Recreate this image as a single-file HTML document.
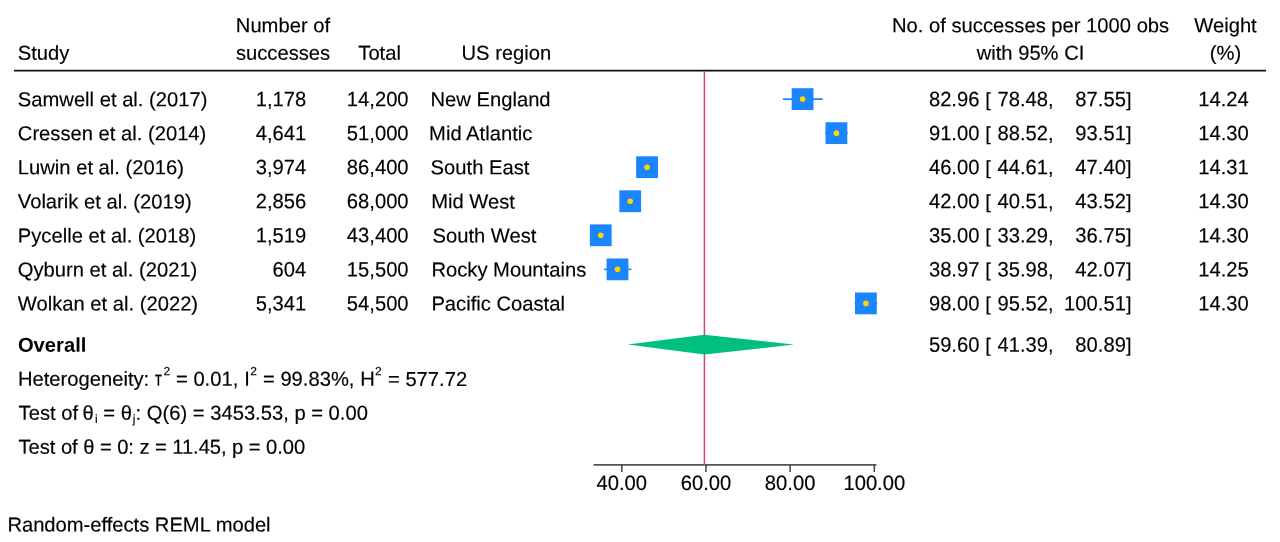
<!DOCTYPE html>
<html><head><meta charset="utf-8"><title>Forest plot</title>
<style>
html,body{margin:0;padding:0;background:#fff;}
body{width:1280px;height:542px;overflow:hidden;}
svg{display:block;will-change:transform;}
text{font-family:"Liberation Sans",Arial,Helvetica,sans-serif;font-size:20.2px;fill:#000;white-space:pre;stroke:#000;stroke-width:0.15px;}
.b{font-weight:bold;stroke-width:0;}
.sup{font-size:12px;}
</style></head><body>
<svg width="1280" height="542" viewBox="0 0 1280 542">
<rect x="0" y="0" width="1280" height="542" fill="#fff"/>

<text transform="matrix(1,0.0005,0,1.0,17.80,59.8)">Study</text>
<text transform="matrix(1,0.0005,0,1.0,235.80,32.2)">Number of</text>
<text transform="matrix(1,0.0005,0,1.0,235.90,59.8)">successes</text>
<text transform="matrix(1,0.0005,0,1.0,358.30,59.8)">Total</text>
<text transform="matrix(1,0.0005,0,1.0,461.50,59.8)">US region</text>
<text transform="matrix(1,0.0005,0,1.0,1030.60,32.2)" text-anchor="middle">No. of successes per 1000 obs</text>
<text transform="matrix(1,0.0005,0,1.0,1030.50,59.8)" text-anchor="middle">with 95% CI</text>
<text transform="matrix(1,0.0005,0,1.0,1225.50,32.2)" text-anchor="middle">Weight</text>
<text transform="matrix(1,0.0005,0,1.0,1225.50,59.8)" text-anchor="middle">(%)</text>
<line x1="14" y1="70.6" x2="1266" y2="70.6" stroke="#111" stroke-width="1.7"/>
<line x1="593.56" y1="464.9" x2="876.45" y2="464.9" stroke="#555" stroke-width="1.6"/>
<line x1="621.80" y1="464.9" x2="621.80" y2="472" stroke="#444" stroke-width="1.5"/>
<text transform="matrix(1,0.0005,0,1.035,621.80,490.0)" text-anchor="middle">40.00</text>
<line x1="705.97" y1="464.9" x2="705.97" y2="472" stroke="#444" stroke-width="1.5"/>
<text transform="matrix(1,0.0005,0,1.035,705.97,490.0)" text-anchor="middle">60.00</text>
<line x1="790.13" y1="464.9" x2="790.13" y2="472" stroke="#444" stroke-width="1.5"/>
<text transform="matrix(1,0.0005,0,1.035,790.13,490.0)" text-anchor="middle">80.00</text>
<line x1="874.30" y1="464.9" x2="874.30" y2="472" stroke="#444" stroke-width="1.5"/>
<text transform="matrix(1,0.0005,0,1.035,874.30,490.0)" text-anchor="middle">100.00</text>
<line x1="704.43" y1="70.9" x2="704.43" y2="465.2" stroke="#cf486c" stroke-width="1.5"/>
<text transform="matrix(1,0.0005,0,1.0,17.80,106.2)">Samwell et al. (2017)</text>
<text transform="matrix(1,0.0005,0,1.035,306.20,106.2)" text-anchor="end">1,178</text>
<text transform="matrix(1,0.0005,0,1.035,408.60,106.2)" text-anchor="end">14,200</text>
<text transform="matrix(1,0.0005,0,1.0,430.50,106.2)">New England</text>
<text transform="matrix(1,0.0005,0,1.035,928.90,106.2)">82.96</text>
<text transform="matrix(1,0.0005,0,0.95,985.25,106.2)">[</text>
<text transform="matrix(1,0.0005,0,1.035,997.50,106.2)">78.48,</text>
<text transform="matrix(1,0.0005,0,1.035,1125.89,106.2)" text-anchor="end">87.55</text>
<text transform="matrix(1,0.0005,0,0.95,1131.50,106.2)" text-anchor="end">]</text>
<text transform="matrix(1,0.0005,0,1.035,1198.30,106.2)">14.24</text>
<line x1="782.94" y1="99.10" x2="822.71" y2="99.10" stroke="#1a85ff" stroke-width="1.6"/>
<rect x="791.69" y="88.20" width="21.8" height="21.8" fill="#1a85ff"/>
<circle cx="802.59" cy="99.10" r="2.8" fill="#ffd400"/>
<text transform="matrix(1,0.0005,0,1.0,17.80,140.25)">Cressen et al. (2014)</text>
<text transform="matrix(1,0.0005,0,1.035,306.20,140.25)" text-anchor="end">4,641</text>
<text transform="matrix(1,0.0005,0,1.035,408.60,140.25)" text-anchor="end">51,000</text>
<text transform="matrix(1,0.0005,0,1.0,429.10,140.25)">Mid Atlantic</text>
<text transform="matrix(1,0.0005,0,1.035,928.90,140.25)">91.00</text>
<text transform="matrix(1,0.0005,0,0.95,985.25,140.25)">[</text>
<text transform="matrix(1,0.0005,0,1.035,997.50,140.25)">88.52,</text>
<text transform="matrix(1,0.0005,0,1.035,1125.89,140.25)" text-anchor="end">93.51</text>
<text transform="matrix(1,0.0005,0,0.95,1131.50,140.25)" text-anchor="end">]</text>
<text transform="matrix(1,0.0005,0,1.035,1198.30,140.25)">14.30</text>
<line x1="825.19" y1="133.15" x2="847.79" y2="133.15" stroke="#1a85ff" stroke-width="1.6"/>
<rect x="825.52" y="122.25" width="21.8" height="21.8" fill="#1a85ff"/>
<circle cx="836.42" cy="133.15" r="2.8" fill="#ffd400"/>
<text transform="matrix(1,0.0005,0,1.0,17.80,174.3)">Luwin et al. (2016)</text>
<text transform="matrix(1,0.0005,0,1.035,306.20,174.3)" text-anchor="end">3,974</text>
<text transform="matrix(1,0.0005,0,1.035,408.60,174.3)" text-anchor="end">86,400</text>
<text transform="matrix(1,0.0005,0,1.0,430.60,174.3)">South East</text>
<text transform="matrix(1,0.0005,0,1.035,928.90,174.3)">46.00</text>
<text transform="matrix(1,0.0005,0,0.95,985.25,174.3)">[</text>
<text transform="matrix(1,0.0005,0,1.035,997.50,174.3)">44.61,</text>
<text transform="matrix(1,0.0005,0,1.035,1125.89,174.3)" text-anchor="end">47.40</text>
<text transform="matrix(1,0.0005,0,0.95,1131.50,174.3)" text-anchor="end">]</text>
<text transform="matrix(1,0.0005,0,1.035,1198.30,174.3)">14.31</text>
<line x1="640.40" y1="167.20" x2="653.74" y2="167.20" stroke="#1a85ff" stroke-width="1.6"/>
<rect x="636.15" y="156.30" width="21.8" height="21.8" fill="#1a85ff"/>
<circle cx="647.05" cy="167.20" r="2.8" fill="#ffd400"/>
<text transform="matrix(1,0.0005,0,1.0,17.80,208.35)">Volarik et al. (2019)</text>
<text transform="matrix(1,0.0005,0,1.035,306.20,208.35)" text-anchor="end">2,856</text>
<text transform="matrix(1,0.0005,0,1.035,408.60,208.35)" text-anchor="end">68,000</text>
<text transform="matrix(1,0.0005,0,1.0,431.20,208.35)">Mid West</text>
<text transform="matrix(1,0.0005,0,1.035,928.90,208.35)">42.00</text>
<text transform="matrix(1,0.0005,0,0.95,985.25,208.35)">[</text>
<text transform="matrix(1,0.0005,0,1.035,997.50,208.35)">40.51,</text>
<text transform="matrix(1,0.0005,0,1.035,1125.89,208.35)" text-anchor="end">43.52</text>
<text transform="matrix(1,0.0005,0,0.95,1131.50,208.35)" text-anchor="end">]</text>
<text transform="matrix(1,0.0005,0,1.035,1198.30,208.35)">14.30</text>
<line x1="623.15" y1="201.25" x2="637.41" y2="201.25" stroke="#1a85ff" stroke-width="1.6"/>
<rect x="619.32" y="190.35" width="21.8" height="21.8" fill="#1a85ff"/>
<circle cx="630.22" cy="201.25" r="2.8" fill="#ffd400"/>
<text transform="matrix(1,0.0005,0,1.0,17.80,242.4)">Pycelle et al. (2018)</text>
<text transform="matrix(1,0.0005,0,1.035,306.20,242.4)" text-anchor="end">1,519</text>
<text transform="matrix(1,0.0005,0,1.035,408.60,242.4)" text-anchor="end">43,400</text>
<text transform="matrix(1,0.0005,0,1.0,432.50,242.4)">South West</text>
<text transform="matrix(1,0.0005,0,1.035,928.90,242.4)">35.00</text>
<text transform="matrix(1,0.0005,0,0.95,985.25,242.4)">[</text>
<text transform="matrix(1,0.0005,0,1.035,997.50,242.4)">33.29,</text>
<text transform="matrix(1,0.0005,0,1.035,1125.89,242.4)" text-anchor="end">36.75</text>
<text transform="matrix(1,0.0005,0,0.95,1131.50,242.4)" text-anchor="end">]</text>
<text transform="matrix(1,0.0005,0,1.035,1198.30,242.4)">14.30</text>
<line x1="592.76" y1="235.30" x2="608.92" y2="235.30" stroke="#1a85ff" stroke-width="1.6"/>
<rect x="589.86" y="224.40" width="21.8" height="21.8" fill="#1a85ff"/>
<circle cx="600.76" cy="235.30" r="2.8" fill="#ffd400"/>
<text transform="matrix(1,0.0005,0,1.0,17.80,276.45)">Qyburn et al. (2021)</text>
<text transform="matrix(1,0.0005,0,1.035,306.20,276.45)" text-anchor="end">604</text>
<text transform="matrix(1,0.0005,0,1.035,408.60,276.45)" text-anchor="end">15,500</text>
<text transform="matrix(1,0.0005,0,1.0,431.40,276.45)">Rocky Mountains</text>
<text transform="matrix(1,0.0005,0,1.035,928.90,276.45)">38.97</text>
<text transform="matrix(1,0.0005,0,0.95,985.25,276.45)">[</text>
<text transform="matrix(1,0.0005,0,1.035,997.50,276.45)">35.98,</text>
<text transform="matrix(1,0.0005,0,1.035,1125.89,276.45)" text-anchor="end">42.07</text>
<text transform="matrix(1,0.0005,0,0.95,1131.50,276.45)" text-anchor="end">]</text>
<text transform="matrix(1,0.0005,0,1.035,1198.30,276.45)">14.25</text>
<line x1="604.08" y1="269.35" x2="631.31" y2="269.35" stroke="#1a85ff" stroke-width="1.6"/>
<rect x="606.57" y="258.45" width="21.8" height="21.8" fill="#1a85ff"/>
<circle cx="617.47" cy="269.35" r="2.8" fill="#ffd400"/>
<text transform="matrix(1,0.0005,0,1.0,17.80,310.5)">Wolkan et al. (2022)</text>
<text transform="matrix(1,0.0005,0,1.035,306.20,310.5)" text-anchor="end">5,341</text>
<text transform="matrix(1,0.0005,0,1.035,408.60,310.5)" text-anchor="end">54,500</text>
<text transform="matrix(1,0.0005,0,1.0,431.40,310.5)">Pacific Coastal</text>
<text transform="matrix(1,0.0005,0,1.035,928.90,310.5)">98.00</text>
<text transform="matrix(1,0.0005,0,0.95,985.25,310.5)">[</text>
<text transform="matrix(1,0.0005,0,1.035,997.50,310.5)">95.52,</text>
<text transform="matrix(1,0.0005,0,1.035,1125.89,310.5)" text-anchor="end">100.51</text>
<text transform="matrix(1,0.0005,0,0.95,1131.50,310.5)" text-anchor="end">]</text>
<text transform="matrix(1,0.0005,0,1.035,1198.30,310.5)">14.30</text>
<line x1="854.65" y1="303.40" x2="877.25" y2="303.40" stroke="#1a85ff" stroke-width="1.6"/>
<rect x="854.98" y="292.50" width="21.8" height="21.8" fill="#1a85ff"/>
<circle cx="865.88" cy="303.40" r="2.8" fill="#ffd400"/>
<text transform="matrix(1,0.0005,0,1.0,17.90,351.8)" class="b">Overall</text>
<polygon points="627.65,344.6 704.43,334.70000000000005 793.88,344.6 704.43,354.5" fill="#00bf7f"/>
<text transform="matrix(1,0.0005,0,1.035,928.90,351.8)">59.60</text>
<text transform="matrix(1,0.0005,0,0.95,985.25,351.8)">[</text>
<text transform="matrix(1,0.0005,0,1.035,997.50,351.8)">41.39,</text>
<text transform="matrix(1,0.0005,0,1.035,1125.89,351.8)" text-anchor="end">80.89</text>
<text transform="matrix(1,0.0005,0,0.95,1131.50,351.8)" text-anchor="end">]</text>
<text transform="matrix(0.72,0.0005,0,1.08,155.0,385.7)" style="font-family:'WenQuanYi Zen Hei','Liberation Sans',sans-serif">τ</text>
<text transform="matrix(1,0.0005,0,1.0,17.90,385.7)"><tspan x="0.00" y="0">Heterogeneity:</tspan><tspan x="145.50" y="-10.6" class="sup">2</tspan><tspan x="158.10" y="0">= 0.01,</tspan><tspan x="226.40" y="0">I</tspan><tspan x="232.30" y="-10.6" class="sup">2</tspan><tspan x="245.10" y="0">= 99.83%,</tspan><tspan x="342.30" y="0">H</tspan><tspan x="357.20" y="-10.6" class="sup">2</tspan><tspan x="370.10" y="0">= 577.72</tspan></text>
<text transform="matrix(1,0.0005,0,1.0,18.60,419.7)"><tspan x="0.00" y="0">Test of</tspan><tspan x="64.00" y="0">θ</tspan><tspan x="76.40" y="3.3" class="sup">i</tspan><tspan x="84.70" y="0">= θ</tspan><tspan x="114.10" y="3.3" class="sup">j</tspan><tspan x="117.00" y="0">: Q(6) = 3453.53, p = 0.00</tspan></text>
<text transform="matrix(1,0.0005,0,1.0,18.60,453.7)" textLength="286.6" lengthAdjust="spacing">Test of θ = 0: z = 11.45, p = 0.00</text>
<text transform="matrix(1,0.0005,0,1.0,7.40,531.4)" textLength="263.2" lengthAdjust="spacing">Random-effects REML model</text>
</svg></body></html>
